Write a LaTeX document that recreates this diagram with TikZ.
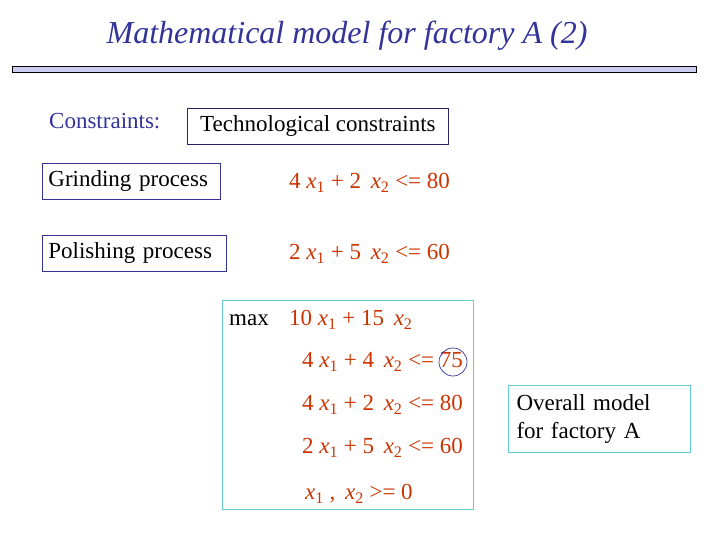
\documentclass[tikz,border=0pt]{standalone}
\usepackage{fontspec}
\setmainfont{Liberation Serif}
\definecolor{tblue}{HTML}{333399}
\definecolor{eqred}{HTML}{CC3300}
\definecolor{cyanb}{HTML}{66CCCC}
\definecolor{barfill}{HTML}{CCCCF0}
\begin{document}
\begin{tikzpicture}[x=1pt,y=-1pt,
  txt/.style={font=\fontsize{23}{28}\selectfont, inner sep=0pt},
  eq/.style={txt, text=eqred, anchor=west},
  lbox/.style={draw=tblue, line width=0.8pt, txt, inner sep=6pt, anchor=west, minimum height=36pt}]
\useasboundingbox (0,0) rectangle (720,540);
\node[font=\itshape\fontsize{32}{36}\selectfont, text=tblue] (title) at (347,36) {Mathematical model for factory A (2)};
\draw[fill=barfill, line width=0.8pt] (12,66) rectangle (696,72);
\node[txt, text=tblue, anchor=west] (cons) at (49,121) {Constraints:};
\node[lbox, minimum width=261pt, draw=tblue!70!black] (tech) at (187,126) {Technological constraints};
\node[lbox, minimum width=178pt, text width=166pt] (grind) at (42,181) {Grinding process};
\node[lbox, minimum width=184pt, text width=172pt] (pol) at (42,253) {Polishing process};
\node[eq] (e1) at (289,183) {4 \textit{x}\textsubscript{1} + 2\, \textit{x}\textsubscript{2} <= 80};
\node[eq] (e2) at (289,254) {2 \textit{x}\textsubscript{1} + 5\, \textit{x}\textsubscript{2} <= 60};
\draw[cyanb, line width=1pt] (222,300) rectangle (473,509);
\node[txt, anchor=west] (max) at (229,320) {max};
\node[eq] (obj) at (289,320) {10 \textit{x}\textsubscript{1} + 15\, \textit{x}\textsubscript{2}};
\node[eq] (c1) at (302,362) {4 \textit{x}\textsubscript{1} + 4\, \textit{x}\textsubscript{2} <= 75};
\node[eq] (c2) at (302,405) {4 \textit{x}\textsubscript{1} + 2\, \textit{x}\textsubscript{2} <= 80};
\node[eq] (c3) at (302,448) {2 \textit{x}\textsubscript{1} + 5\, \textit{x}\textsubscript{2} <= 60};
\node[eq] (c4) at (305,494) {\textit{x}\textsubscript{1} ,\, \textit{x}\textsubscript{2} >= 0};
\draw[tblue, line width=0.7pt] (453,362) circle (14);
\node[draw=cyanb, line width=1pt, minimum width=182pt, minimum height=67pt, txt, inner sep=8pt, align=left, text width=166pt, anchor=north west] (overall) at (508,385) {Overall model\\for factory A};
\end{tikzpicture}
\end{document}
